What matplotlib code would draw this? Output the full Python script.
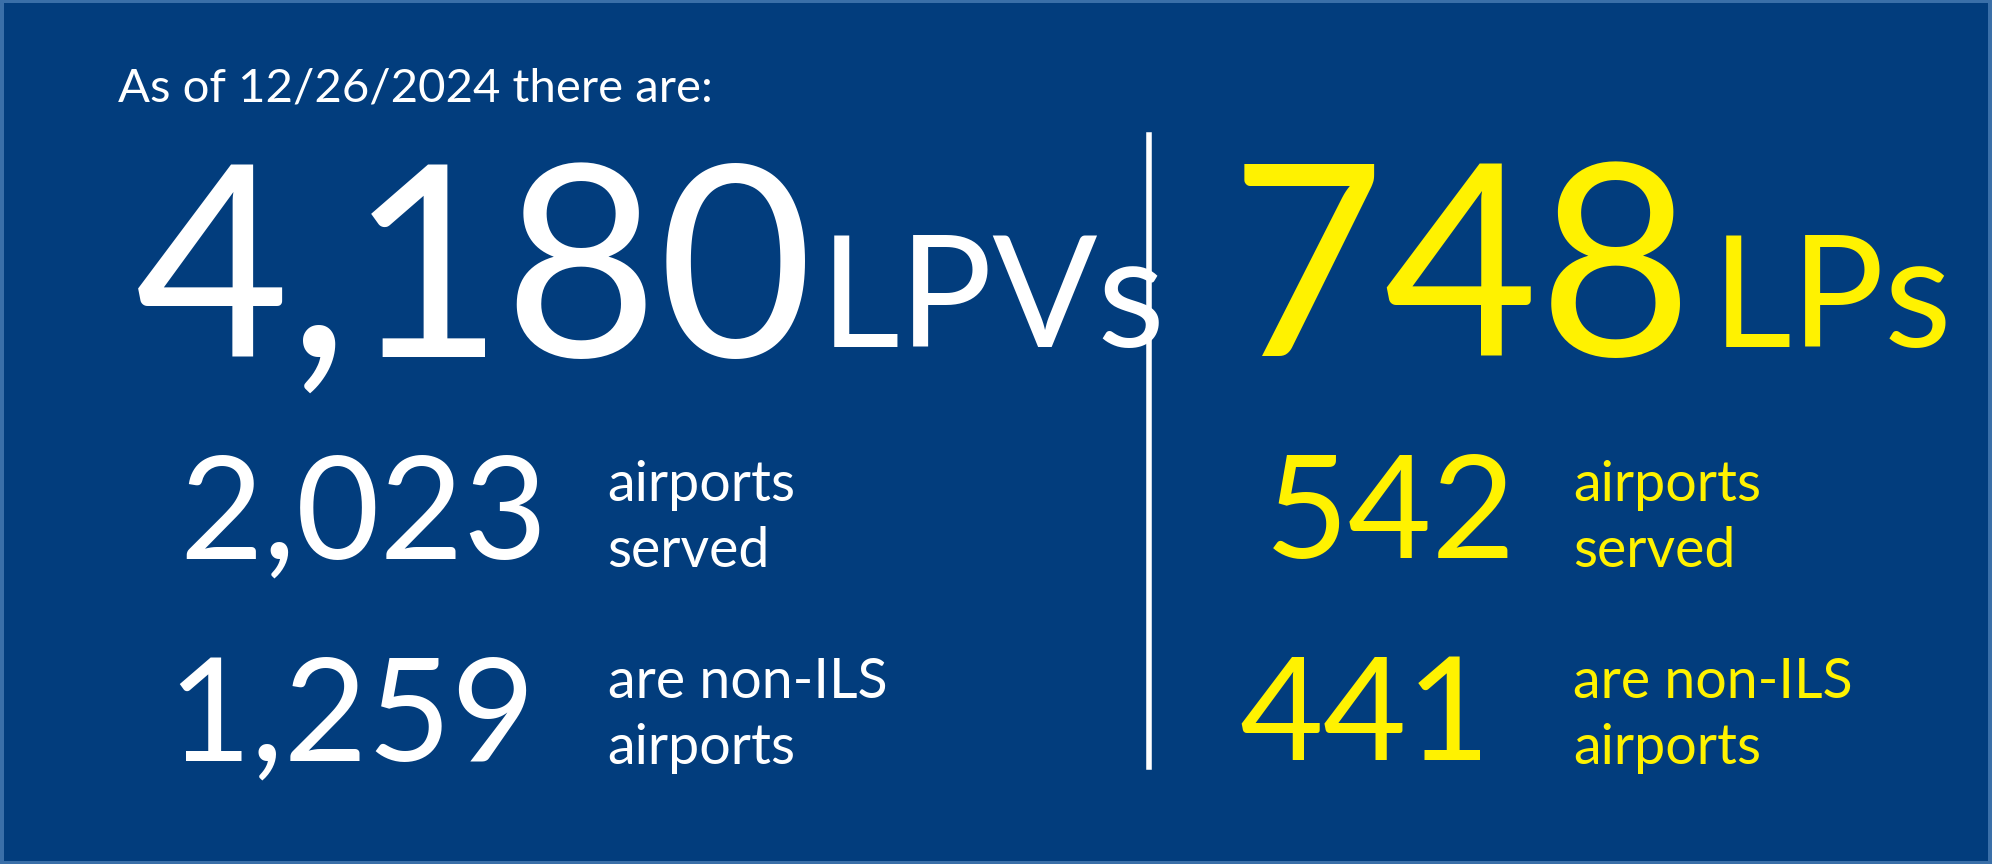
import matplotlib
matplotlib.use("Agg")
import matplotlib.pyplot as plt

date_label = "As of 12/26/2024 there are:"
big_values = ["4,180", "748"]
big_units = ["LPVs", "LPs"]
airports_served = ["2,023", "542"]
non_ils = ["1,259", "441"]
colors = ["#FFFFFF", "#FFF200"]
BG = "#023D7D"
FONT = ["Lato", "DejaVu Sans"]

fig = plt.figure(figsize=(19.92, 8.64), dpi=100)
fig.patch.set_facecolor("#3A6FA8")
ax = fig.add_axes([0.002, 0.003, 0.996, 0.994])
ax.set_facecolor(BG)
ax.set_xlim(0, 1568); ax.set_ylim(680, 0)
for s in ax.spines.values(): s.set_visible(False)
ax.set_xticks([]); ax.set_yticks([])

def T(x, y, s, size, c, ha="left"):
    ax.text(x, y, s, fontsize=size, color=c, ha=ha, va="baseline", family=FONT)

T(90, 78, date_label, 34, "white")

# columns
big_right = [640, 1335]
unit_x = [645, 1350]
mid_right = [430, 1195]
lab_x = [477, 1240]
for i in range(2):
    c = colors[i]
    T(big_right[i], 280, big_values[i], 192, c, ha="right")
    T(unit_x[i], 273, big_units[i], 112, c)
    T(mid_right[i], 440, airports_served[i], 104, c, ha="right")
    T(lab_x[i], 395, "airports", 40, c)
    T(lab_x[i], 447, "served", 40, c)
    T(mid_right[i] - 10 if i == 0 else mid_right[i] - 20, 600, non_ils[i], 104, c, ha="right")
    T(lab_x[i], 551, "are non-ILS", 40, c)
    T(lab_x[i], 603, "airports", 40, c)

ax.plot([905, 905], [105, 605], color="white", lw=4)

fig.savefig("out.png", dpi=100, facecolor=fig.get_facecolor())
